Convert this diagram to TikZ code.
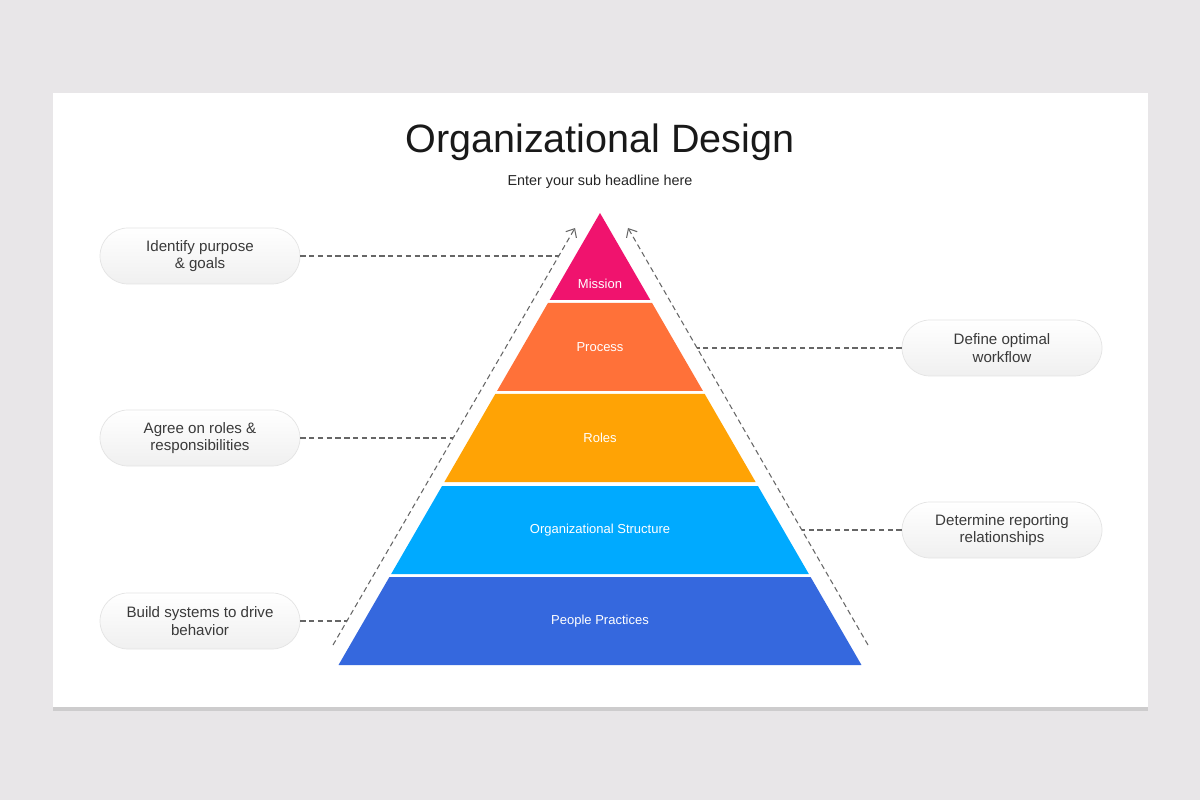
\documentclass[tikz,border=0pt]{standalone}
\usepackage{fontspec}
\setmainfont{Liberation Sans}
\usetikzlibrary{arrows.meta, calc, positioning, shadows}
\definecolor{canvas}{HTML}{E8E6E8}
\definecolor{cMission}{HTML}{F0136E}
\definecolor{cProcess}{HTML}{FF7139}
\definecolor{cRoles}{HTML}{FFA305}
\definecolor{cOrg}{HTML}{00AAFF}
\definecolor{cPeople}{HTML}{3568DE}
\definecolor{pillline}{HTML}{E4E4E4}
\definecolor{pilltext}{HTML}{3A3A3A}
\tikzset{
  pill/.style={rounded corners=28*0.02cm, minimum width=200*0.02cm, minimum height=56*0.02cm,
    draw=pillline, top color=white, bottom color=gray!12, align=center,
    font=\fontsize{8.6}{10}\selectfont, text=pilltext},
  tiertext/.style={text=white, font=\fontsize{7.4}{9}\selectfont},
  guide/.style={densely dashed, gray!80!black, line width=0.6pt},
}
\begin{document}
\begin{tikzpicture}[x=0.02cm, y=-0.02cm]
% Canvas and slide
\fill[canvas] (0,0) rectangle (1200,800);
\fill[white, drop shadow={shadow xshift=0pt, shadow yshift=-2pt, opacity=0.25}] (53,93) rectangle (1148,707);

% Title
\node[font=\fontsize{22.5}{26}\selectfont, text=black!90] (title) at (600,142) {Organizational Design};
\node[font=\fontsize{8.2}{10}\selectfont, text=black!85] (sub) at (600,182) {Enter your sub headline here};

% Pyramid tiers
\foreach \t/\b/\col/\lab [count=\i] in {213/300/cMission/Mission, 303/391/cProcess/Process, 394/482/cRoles/Roles, 486/574/cOrg/Organizational Structure, 577/665/cPeople/People Practices} {
  \fill[\col] ({600-(\t-213)*0.5785},\t) -- ({600+(\t-213)*0.5785},\t) -- ({600+(\b-213)*0.5785},\b) -- ({600-(\b-213)*0.5785},\b) -- cycle;
  \node[tiertext] (tier\i) at (600,{\i==1 ? 284 : (\t+\b)/2}) {\lab};
}

% Guide arrows
\coordinate (lbot) at (333,645);
\coordinate (ltop) at (575,228);
\coordinate (rbot) at (868,645);
\coordinate (rtop) at (628,228);
\draw[guide, -{Straight Barb[length=4pt, width=7pt]}] (lbot) -- (ltop);
\draw[guide, -{Straight Barb[length=4pt, width=7pt]}] (rbot) -- (rtop);

% Pills
\node[pill] (purpose) at (200,256) {Identify purpose\\ \& goals};
\node[pill] (roles) at (200,438) {Agree on roles \&\\ responsibilities};
\node[pill] (systems) at (200,621) {Build systems to drive\\ behavior};
\node[pill] (workflow) at (1002,348) {Define optimal\\ workflow};
\node[pill] (reporting) at (1002,530) {Determine reporting\\ relationships};

% Leaders
\coordinate (l1) at (558.7,256);
\coordinate (l2) at (453.1,438);
\coordinate (l3) at (346.9,621);
\coordinate (r1) at (696.5,348);
\coordinate (r2) at (801.8,530);
\draw[guide] (purpose.east) -- (l1);
\draw[guide] (roles.east) -- (l2);
\draw[guide] (systems.east) -- (l3);
\draw[guide] (workflow.west) -- (r1);
\draw[guide] (reporting.west) -- (r2);
\end{tikzpicture}
\end{document}
